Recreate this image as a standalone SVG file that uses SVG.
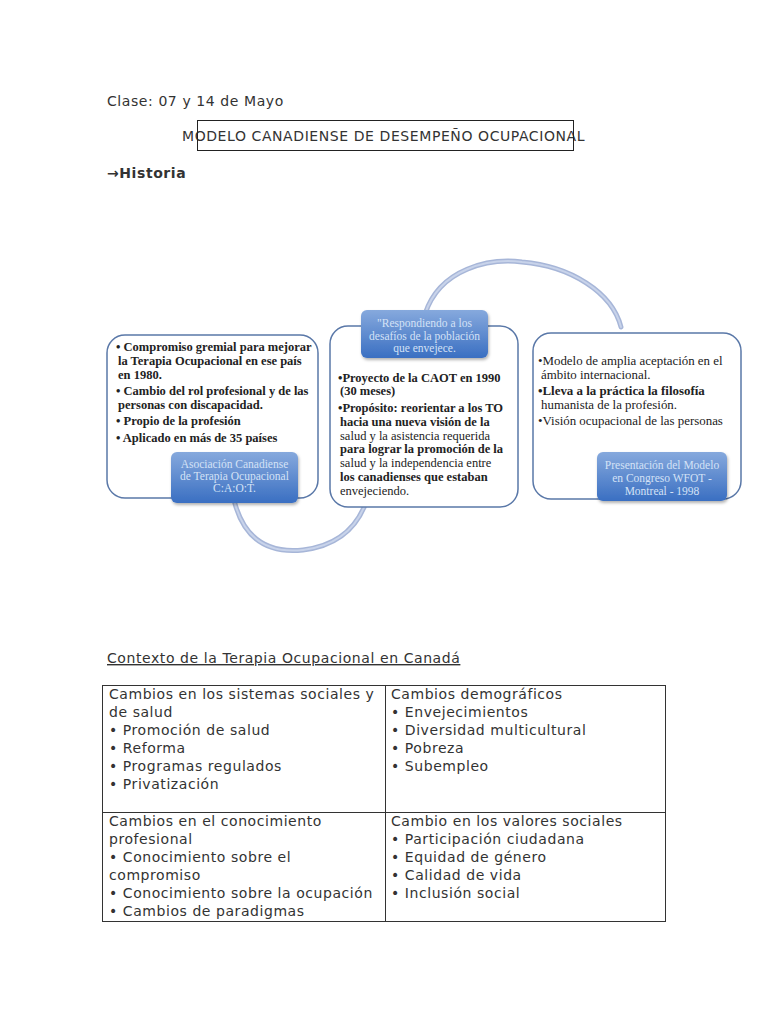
<svg xmlns="http://www.w3.org/2000/svg" width="768" height="1024" viewBox="0 0 768 1024">
<defs>
<linearGradient id="tagGrad" x1="0" y1="0" x2="0" y2="1">
<stop offset="0" stop-color="#86a9dd"/>
<stop offset="1" stop-color="#3a6fc2"/>
</linearGradient>
<filter id="sh" x="-10%" y="-10%" width="130%" height="140%">
<feDropShadow dx="1" dy="2" stdDeviation="1.5" flood-color="#000" flood-opacity="0.3"/>
</filter>
<style>
.doc{font-family:"DejaVu Sans",sans-serif;font-size:14px;fill:#333;letter-spacing:0.58px}
.box{fill:#fff;stroke:#5a78a8;stroke-width:1.5}
.tag{fill:url(#tagGrad);filter:url(#sh)}
.bt{font-family:"Liberation Serif","DejaVu Serif",serif;font-size:12.5px;fill:#222}
.rt{font-size:12.9px}
.b{font-weight:bold}
.tt{font-family:"Liberation Serif","DejaVu Serif",serif;font-size:11.5px;fill:#d4e2f6;text-anchor:middle}
.arc{fill:none;stroke:#a7b6d8;stroke-width:5;stroke-linecap:round}
.arc2{fill:none;stroke:#c8d3ea;stroke-width:2;stroke-linecap:round}
.tbl{fill:none;stroke:#333;stroke-width:1}
.td{font-family:"DejaVu Sans",sans-serif;font-size:14px;fill:#333;letter-spacing:0.56px}
</style>
</defs>
<rect width="768" height="1024" fill="#fff"/>

<g id="header">
<text class="doc" x="107" y="106">Clase: 07 y 14 de Mayo</text>
<text class="doc" x="182" y="141">MODELO CANADIENSE DE DESEMPEÑO OCUPACIONAL</text>
<rect x="197.5" y="120.5" width="376" height="30" fill="none" stroke="#222" stroke-width="1"/>
<text class="doc" x="107" y="178" font-weight="bold">→Historia</text>
</g>

<g id="connectors">
<path class="arc" d="M425,314 C440,268 490,258 522,262 C570,266 612,292 621,327"/>
<path class="arc2" d="M425,314 C440,268 490,258 522,262 C570,266 612,292 621,327"/>
<path class="arc" d="M234,500 C245,545 275,553 303,550 C335,546 355,530 365,505"/>
<path class="arc2" d="M234,500 C245,545 275,553 303,550 C335,546 355,530 365,505"/>
</g>

<g id="node-caot">
<rect class="box" x="107" y="335" width="211" height="163" rx="18"/>
<text class="bt b" x="116" y="351">• Compromiso gremial para mejorar</text>
<text class="bt b" x="118" y="365">la Terapia Ocupacional en ese país</text>
<text class="bt b" x="118" y="379">en 1980.</text>
<text class="bt b" x="116" y="395">• Cambio del rol profesional y de las</text>
<text class="bt b" x="118" y="409">personas con discapacidad.</text>
<text class="bt b" x="116" y="425">• Propio de la profesión</text>
<text class="bt b" x="116" y="442">• Aplicado en más de 35 países</text>
<rect class="tag" x="171" y="452" width="127" height="51" rx="6"/>
<text class="tt" x="234.5" y="468">Asociación Canadiense</text>
<text class="tt" x="234.5" y="480">de Terapia Ocupacional</text>
<text class="tt" x="234.5" y="492">C:A:O:T.</text>
</g>

<g id="node-proyecto">
<rect class="box" x="330" y="326" width="188" height="181" rx="18"/>
<text class="bt b" x="338" y="382">•Proyecto de la CAOT en 1990</text>
<text class="bt b" x="340" y="395">(30 meses)</text>
<text class="bt b" x="338" y="412">•Propósito: reorientar a los TO</text>
<text class="bt b" x="340" y="426">hacia una nueva visión de la</text>
<text class="bt" x="340" y="440">salud y la asistencia requerida</text>
<text class="bt b" x="340" y="453">para lograr la promoción de la</text>
<text class="bt" x="340" y="467">salud y la independencia entre</text>
<text class="bt b" x="340" y="481">los canadienses que estaban</text>
<text class="bt" x="340" y="495">envejeciendo.</text>
<rect class="tag" x="361" y="310" width="127" height="48" rx="6"/>
<text class="tt" x="424.5" y="327">"Respondiendo a los</text>
<text class="tt" x="424.5" y="340">desafíos de la población</text>
<text class="tt" x="424.5" y="352">que envejece.</text>
</g>

<g id="node-wfot">
<rect class="box" x="533" y="333" width="208" height="166" rx="18"/>
<text class="bt rt" x="538" y="365">•Modelo de amplia aceptación en el</text>
<text class="bt rt" x="541" y="379">ámbito internacional.</text>
<text class="bt rt b" x="538" y="395">•Lleva a la práctica la filosofía</text>
<text class="bt rt" x="541" y="409">humanista de la profesión.</text>
<text class="bt rt" x="538" y="425">•Visión ocupacional de las personas</text>
<rect class="tag" x="597" y="452" width="130" height="49" rx="6"/>
<text class="tt" x="662" y="469">Presentación del Modelo</text>
<text class="tt" x="662" y="482">en Congreso WFOT -</text>
<text class="tt" x="662" y="495">Montreal - 1998</text>
</g>

<g id="contexto">
<text class="doc" x="107" y="663" text-decoration="underline">Contexto de la Terapia Ocupacional en Canadá</text>
<rect class="tbl" x="102.5" y="685.5" width="563" height="236"/>
<line class="tbl" x1="385.5" y1="685.5" x2="385.5" y2="921.5"/>
<line class="tbl" x1="102.5" y1="812.5" x2="665.5" y2="812.5"/>
<text class="td" x="109" y="699">Cambios en los sistemas sociales y</text>
<text class="td" x="109" y="717">de salud</text>
<text class="td" x="109" y="735">• Promoción de salud</text>
<text class="td" x="109" y="753">• Reforma</text>
<text class="td" x="109" y="771">• Programas regulados</text>
<text class="td" x="109" y="789">• Privatización</text>
<text class="td" x="391" y="699">Cambios demográficos</text>
<text class="td" x="391" y="717">• Envejecimientos</text>
<text class="td" x="391" y="735">• Diversidad multicultural</text>
<text class="td" x="391" y="753">• Pobreza</text>
<text class="td" x="391" y="771">• Subempleo</text>
<text class="td" x="109" y="826">Cambios en el conocimiento</text>
<text class="td" x="109" y="844">profesional</text>
<text class="td" x="109" y="862">• Conocimiento sobre el</text>
<text class="td" x="109" y="880">compromiso</text>
<text class="td" x="109" y="898">• Conocimiento sobre la ocupación</text>
<text class="td" x="109" y="916">• Cambios de paradigmas</text>
<text class="td" x="391" y="826">Cambio en los valores sociales</text>
<text class="td" x="391" y="844">• Participación ciudadana</text>
<text class="td" x="391" y="862">• Equidad de género</text>
<text class="td" x="391" y="880">• Calidad de vida</text>
<text class="td" x="391" y="898">• Inclusión social</text>
</g>
</svg>
